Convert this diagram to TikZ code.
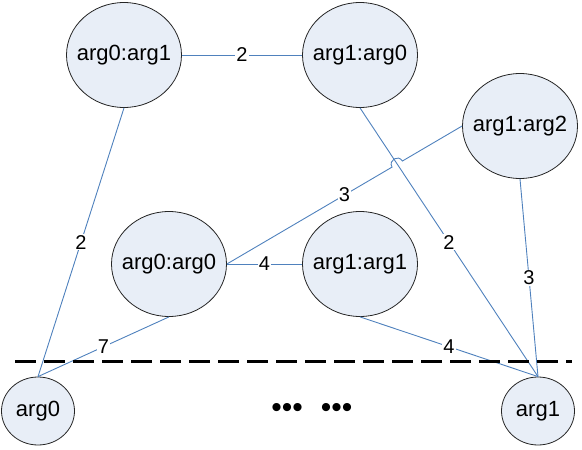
\documentclass[tikz,border=0pt]{standalone}
\usepackage{fontspec}
\setmainfont{Liberation Sans}
\usetikzlibrary{shapes.geometric,intersections,calc}
\definecolor{nodefill}{RGB}{232,238,247}
\definecolor{edgeblue}{RGB}{79,129,189}
\newcommand{\nodetext}[1]{\makebox[0pt]{#1}}
\begin{document}
\begin{tikzpicture}[x=1pt,y=-1pt,
  argnode/.style={ellipse,draw=black!85,line width=0.8pt,fill=nodefill,inner sep=0pt,font=\fontsize{22}{24}\selectfont},
  bignode/.style={argnode,minimum width=115pt,minimum height=105pt},
  smallnode/.style={argnode,minimum width=73pt,minimum height=68pt},
  edgeline/.style={draw=edgeblue,line width=0.9pt},
  lbl/.style={fill=white,inner sep=1pt,font=\fontsize{20}{22}\selectfont},
  sepline/.style={draw=black,line width=3pt,dash pattern=on 21pt off 8pt}]
\useasboundingbox (0,0) rectangle (582,450);
\node[bignode] (a01) at (124,55) {\nodetext{arg0:arg1}};
\node[bignode] (a10) at (360,55) {\nodetext{arg1:arg0}};
\node[bignode] (a12) at (520,126) {\nodetext{arg1:arg2}};
\node[bignode] (a00) at (169,264) {\nodetext{arg0:arg0}};
\node[bignode] (a11) at (360,264) {\nodetext{arg1:arg1}};
\node[smallnode] (r0) at (38,411) {\nodetext{arg0}};
\node[smallnode] (r1) at (538,411) {\nodetext{arg1}};
\node[font=\fontsize{30}{32}\selectfont] (dots) at (312,410) {•••\hspace{18pt}•••};

\draw[edgeline] (a01.east) -- node[lbl] {2} (a10.west);
\draw[edgeline] (a01.south) -- node[lbl] {2} (r0.north);
\draw[edgeline] (a10.south) -- node[lbl] {2} (r1.north);
\draw[edgeline] (a12.south) -- node[lbl] {3} (r1.north);
\draw[edgeline] (a00.east) -- node[lbl] {4} (a11.west);
\draw[edgeline] (a00.south) -- node[lbl] {7} (r0.north);
\draw[edgeline] (a11.south) -- node[lbl] {4} (r1.north);

\path[name path=pa] (a10.south) -- (r1.north);
\path[name path=pb] (a12.west) -- (a00.east);
\path[name intersections={of=pa and pb,by=X}];
\coordinate (P2) at ($(X)!6pt!(a12.west)$);
\coordinate (P1) at ($(X)!6pt!(a00.east)$);
\coordinate (C2) at ($(P2)!8pt!-90:(X)$);
\coordinate (C1) at ($(P1)!8pt!90:(X)$);
\draw[edgeline] (a12.west) -- (P2) .. controls (C2) and (C1) .. (P1) -- (a00.east);
\path (a12.west) -- node[lbl] {3} (a00.east);

\coordinate (dl) at (15,361);
\coordinate (dr) at (572,361);
\draw[sepline] (dl) -- (dr);
\end{tikzpicture}
\end{document}
